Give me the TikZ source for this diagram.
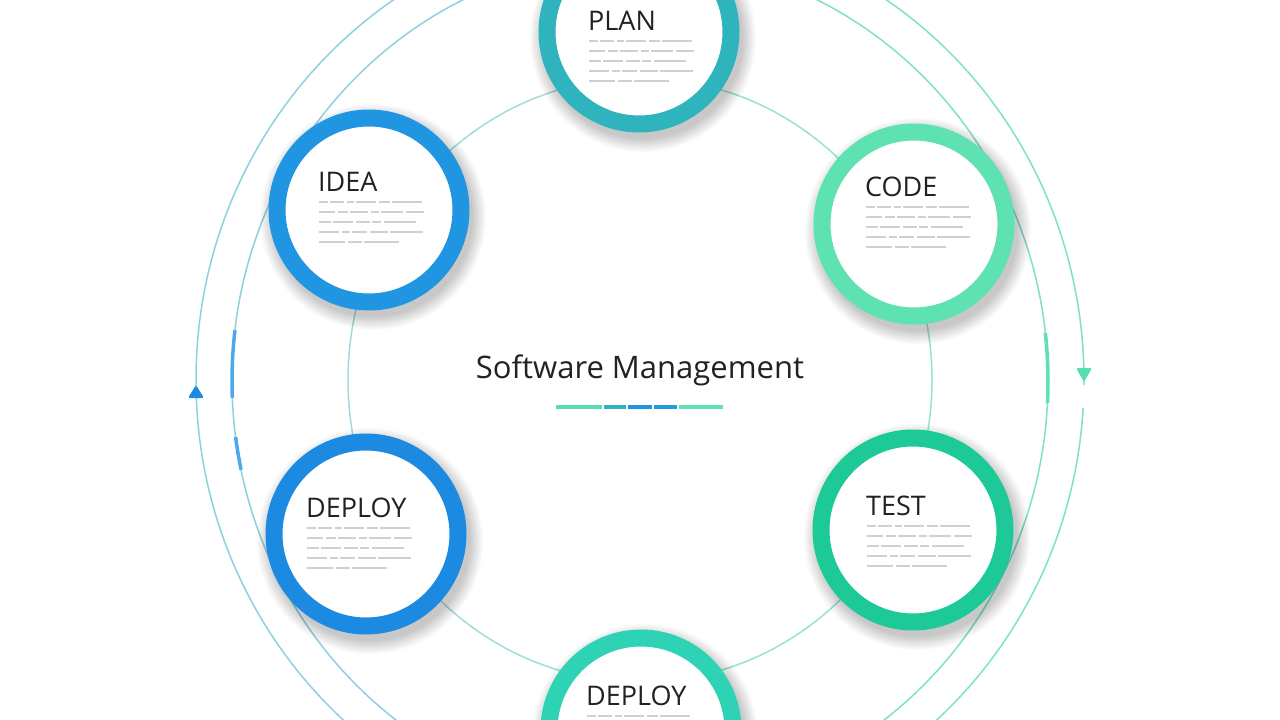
\documentclass[tikz,border=0pt]{standalone}
\usepackage{fontspec}
\setmainfont{Open Sans}
\usetikzlibrary{calc}
\definecolor{planC}{HTML}{2FB4BE}
\definecolor{ideaC}{HTML}{2095E2}
\definecolor{codeC}{HTML}{5FE2B2}
\definecolor{testC}{HTML}{1EC998}
\definecolor{deplC}{HTML}{1C8AE0}
\definecolor{depbC}{HTML}{2DD3B4}
\definecolor{lineL}{HTML}{8CD2DE}
\definecolor{lineR}{HTML}{7EE2C6}
\definecolor{innL}{HTML}{A2DCDC}
\definecolor{innR}{HTML}{97E4CF}
\definecolor{fillerC}{HTML}{C8C8C8}
\definecolor{txt}{HTML}{222222}
\begin{document}
\begin{tikzpicture}[x=1pt,y=-1pt,
  thinL/.style={draw=lineL, line width=1.5pt},
  thinR/.style={draw=lineR, line width=1.5pt},
  innerL/.style={draw=innL, line width=1.5pt},
  innerR/.style={draw=innR, line width=1.5pt},
  stage/.style={circle, draw=#1, line width=17pt, fill=white, minimum size=184pt, inner sep=0pt},
  stagetitle/.style={anchor=base west, inner sep=0pt, text=txt, font=\fontsize{27}{30}\selectfont},
  filler/.style={draw=fillerC, line width=2.3pt, opacity=0.85},
  sh/.style={fill=black, opacity=0.02}
]
\useasboundingbox (0,0) rectangle (1280,720);
\fill[white] (0,0) rectangle (1280,720);
\clip (0,0) rectangle (1280,720);

% centres
\coordinate (ctr) at (640,380);
\coordinate (cplan) at (639,32);
\coordinate (cidea) at (369,210);
\coordinate (ccode) at (914,224);
\coordinate (cdepl) at (366,534);
\coordinate (ctest) at (913,530);
\coordinate (cdepb) at (641,730);

% inner connecting ring
\draw[innerL] ($(ctr)+(0,302)$) arc[start angle=90, end angle=270, x radius=292, y radius=302];
\draw[innerR] ($(ctr)+(0,-302)$) arc[start angle=-90, end angle=90, x radius=292, y radius=302];
% ring A
\draw[thinL] ($(640,381)+(0,423)$) arc[start angle=90, end angle=270, x radius=408, y radius=423];
\draw[thinR] ($(640,381)+(0,-423)$) arc[start angle=-90, end angle=90, x radius=408, y radius=423];
% ring A thick segments
\draw[draw=ideaC!80, line width=3.5pt] ($(640,381)+(177.7:408 and 423)$) arc[start angle=177.7, end angle=186.9, x radius=408, y radius=423];
\draw[draw=ideaC!80, line width=3.5pt] ($(640,381)+(167.9:408 and 423)$) arc[start angle=167.9, end angle=172.4, x radius=408, y radius=423];
\draw[draw=codeC, line width=3.5pt] ($(640,381)+(-6.5:408 and 423)$) arc[start angle=-6.5, end angle=3, x radius=408, y radius=423];
% ring B (gap below right arrow)
\draw[thinL] ($(ctr)+(0,457)$) arc[start angle=90, end angle=270, x radius=444, y radius=457];
\draw[thinR] ($(ctr)+(0,-457)$) arc[start angle=-90, end angle=0.6, x radius=444, y radius=457];
\draw[thinR] ($(ctr)+(3.5:444 and 457)$) arc[start angle=3.5, end angle=90, x radius=444, y radius=457];
% arrow heads on ring B
\coordinate (arrL) at (196,392);
\coordinate (arrR) at (1084,375);
\fill[deplC, rounded corners=1.5pt] ($(arrL)+(0,-7)$) -- ($(arrL)+(8,6)$) -- ($(arrL)+(-8,6)$) -- cycle;
\fill[codeC!90!testC, rounded corners=1.5pt] ($(arrR)+(-8,-7)$) -- ($(arrR)+(8,-7)$) -- ($(arrR)+(0,7)$) -- cycle;

% soft shadows
\foreach \c in {cplan,cidea,ccode,cdepl,ctest,cdepb}{
  \foreach \k in {0,...,10}{
    \fill[sh] ($(\c)+(4,7)$) circle ({100+\k*1.3});
  }
}

% stage circles
\node[stage=planC] (plan) at (cplan) {};
\node[stage=ideaC] (idea) at (cidea) {};
\node[stage=codeC] (code) at (ccode) {};
\node[stage=deplC] (depl) at (cdepl) {};
\node[stage=testC] (test) at (ctest) {};
\node[stage=depbC] (depb) at (cdepb) {};

% titles
\node[stagetitle] (planT) at (588,30) {PLAN};
\node[stagetitle] (ideaT) at (318,191) {IDEA};
\node[stagetitle] (codeT) at (865,196) {CODE};
\node[stagetitle] (deplT) at (306,517) {DEPLOY};
\node[stagetitle] (testT) at (866,515) {TEST};
\node[stagetitle] (depbT) at (586,705) {DEPLOY};

% placeholder text lines (illegible body text)
\foreach \t in {planT,ideaT,codeT,deplT,testT,depbT}{
  \draw[filler, dash pattern=on 9pt off 2pt on 14pt off 3pt on 7pt off 2pt on 20pt off 3pt on 11pt off 2pt on 40pt off 2pt] ($(\t.base west)+(1,11)$) -- ++(103,0);
  \draw[filler, dash pattern=on 16pt off 3pt on 10pt off 2pt on 18pt off 3pt on 8pt off 2pt on 22pt off 3pt on 40pt off 2pt] ($(\t.base west)+(1,21)$) -- ++(105,0);
  \draw[filler, dash pattern=on 12pt off 2pt on 20pt off 3pt on 14pt off 2pt on 9pt off 3pt on 40pt off 2pt] ($(\t.base west)+(1,31)$) -- ++(97,0);
  \draw[filler, dash pattern=on 20pt off 3pt on 8pt off 2pt on 15pt off 3pt on 18pt off 2pt on 40pt off 2pt] ($(\t.base west)+(1,41)$) -- ++(104,0);
  \draw[filler, dash pattern=on 26pt off 3pt on 14pt off 2pt on 40pt off 2pt] ($(\t.base west)+(1,51)$) -- ++(80,0);
}

% centre title
\node[anchor=base, inner sep=0pt, text=txt, font=\fontsize{31}{34}\selectfont] (main) at (640,378) {Software Management};
\coordinate (bar) at (556,407);
\draw[line width=4pt, draw=codeC!90!testC] (bar) -- ++(46,0);
\draw[line width=4pt, draw=planC] ($(bar)+(48,0)$) -- ++(22,0);
\draw[line width=4pt, draw=ideaC] ($(bar)+(72,0)$) -- ++(24,0);
\draw[line width=4pt, draw=ideaC!85!planC] ($(bar)+(98,0)$) -- ++(23,0);
\draw[line width=4pt, draw=codeC] ($(bar)+(123,0)$) -- ++(44,0);
\end{tikzpicture}
\end{document}
